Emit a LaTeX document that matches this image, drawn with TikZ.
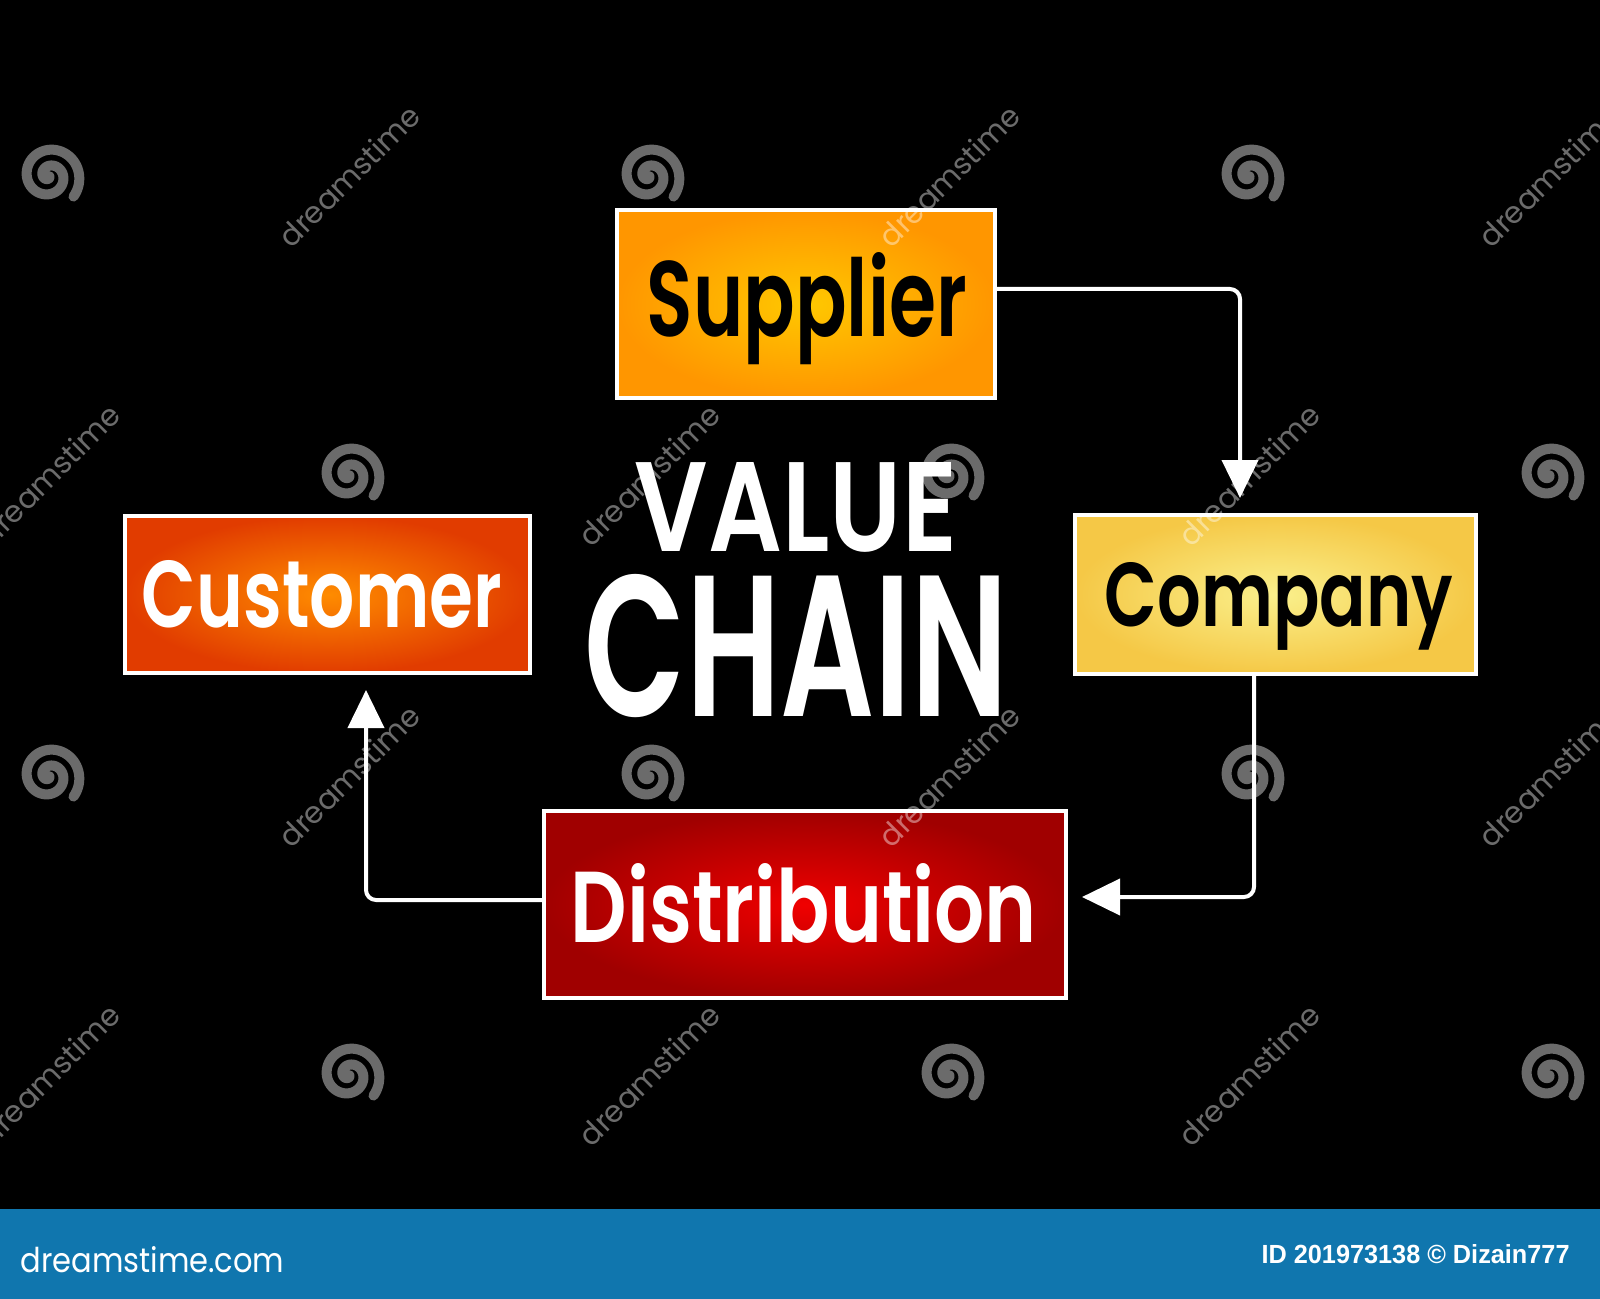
\documentclass[tikz,border=0pt]{standalone}
\usepackage{fontspec}
\usetikzlibrary{arrows.meta}
\newfontfamily\handfont{Poppins}[BoldFont={Poppins SemiBold}]
\newfontfamily\idfont{Liberation Sans}
\definecolor{dsblue}{RGB}{16,118,174}
\definecolor{supIn}{RGB}{255,200,0}
\definecolor{supOut}{RGB}{255,150,0}
\definecolor{comIn}{RGB}{250,240,140}
\definecolor{comOut}{RGB}{245,200,70}
\definecolor{cusIn}{RGB}{255,140,0}
\definecolor{cusOut}{RGB}{225,60,0}
\definecolor{disIn}{RGB}{240,0,0}
\definecolor{disOut}{RGB}{160,0,0}
\tikzset{
  box/.style={draw=white,line width=2pt,inner sep=0pt},
  lbl/.style={anchor=base,inner sep=0pt},
  conn/.style={draw=white,line width=2pt,rounded corners=5pt,line join=round,
    -{Triangle[width=18pt,length=19pt,fill=white]}},
  wm/.style={white,opacity=0.42},
  spiral/.pic={\draw[line width=5pt,line cap=round]
    plot[smooth,domain=40:760,samples=120,variable=\t]
    ({(\t-40)/720*32*cos(\t)},{(\t-40)/720*32*sin(\t)});}
}
\begin{document}
\begin{tikzpicture}[x=0.5pt,y=-0.5pt]
\useasboundingbox (0,0) rectangle (1600,1299);
\fill[black] (0,0) rectangle (1600,1299);

% boxes
\node[box,minimum width=189pt,minimum height=94pt,inner color=supIn,outer color=supOut] (sup) at (806,304) {};
\node[box,minimum width=200.5pt,minimum height=79.5pt,inner color=comIn,outer color=comOut] (com) at (1275.5,594.5) {};
\node[box,minimum width=202.5pt,minimum height=78.5pt,inner color=cusIn,outer color=cusOut] (cus) at (327.5,594.5) {};
\node[box,minimum width=261pt,minimum height=93.5pt,inner color=disIn,outer color=disOut] (dis) at (805,904.5) {};

% labels
\node[lbl,text=black] (supT) at (807,337) {\resizebox{160pt}{42pt}{\handfont\bfseries Supplier}};
\node[lbl,text=black] (comT) at (1279,626) {\resizebox{174pt}{32pt}{\handfont\bfseries Company}};
\node[lbl,text=white] (cusT) at (322,627) {\resizebox{180pt}{33.5pt}{\handfont\bfseries Customer}};
\node[lbl,text=white] (disT) at (804,942) {\resizebox{233pt}{39.5pt}{\handfont\bfseries Distribution}};
\node[lbl,text=white] (val) at (796,551) {\resizebox{161pt}{44.5pt}{\handfont\bfseries VALUE}};
\node[lbl,text=white] (chn) at (796.5,716) {\resizebox{211.5pt}{71pt}{\handfont\bfseries CHAIN}};

% connectors
\draw[conn,shorten >=7.5pt] ([yshift=7.5pt]sup.east) -| ([xshift=-17.75pt]com.north);
\draw[conn,shorten >=7pt] ([xshift=-10.75pt]com.south) |- ([yshift=3.75pt]dis.east);
\draw[conn,shorten >=7.5pt] ([yshift=2.25pt]dis.west) -| ([xshift=19.25pt]cus.south);

% watermarks
\foreach \x in {49,649,1249}{
  \foreach \y in {176,776}{\pic[wm] at (\x,\y) {spiral};}
  \foreach \y in {475,1075}{\node[wm,rotate=45,inner sep=0pt] (wmt-\x-\y) at (\x,\y) {\handfont\fontsize{15pt}{15pt}\selectfont dreamstime};}
}
\foreach \x in {349,949,1549}{
  \foreach \y in {475,1075}{\pic[wm] at (\x,\y) {spiral};}
  \foreach \y in {176,776}{\node[wm,rotate=45,inner sep=0pt] (wmt-\x-\y) at (\x,\y) {\handfont\fontsize{15pt}{15pt}\selectfont dreamstime};}
}

% bottom bar
\fill[dsblue] (0,1209) rectangle (1600,1299);
\node[inner sep=0pt,anchor=base west,text=white] (logo) at (20,1272) {\resizebox{132pt}{13pt}{\handfont dreamstime.com}};
\node[inner sep=0pt,anchor=base east,text=white] (idt) at (1570,1263) {\resizebox{154pt}{9.5pt}{\idfont\bfseries ID 201973138 © Dizain777}};
\end{tikzpicture}
\end{document}
